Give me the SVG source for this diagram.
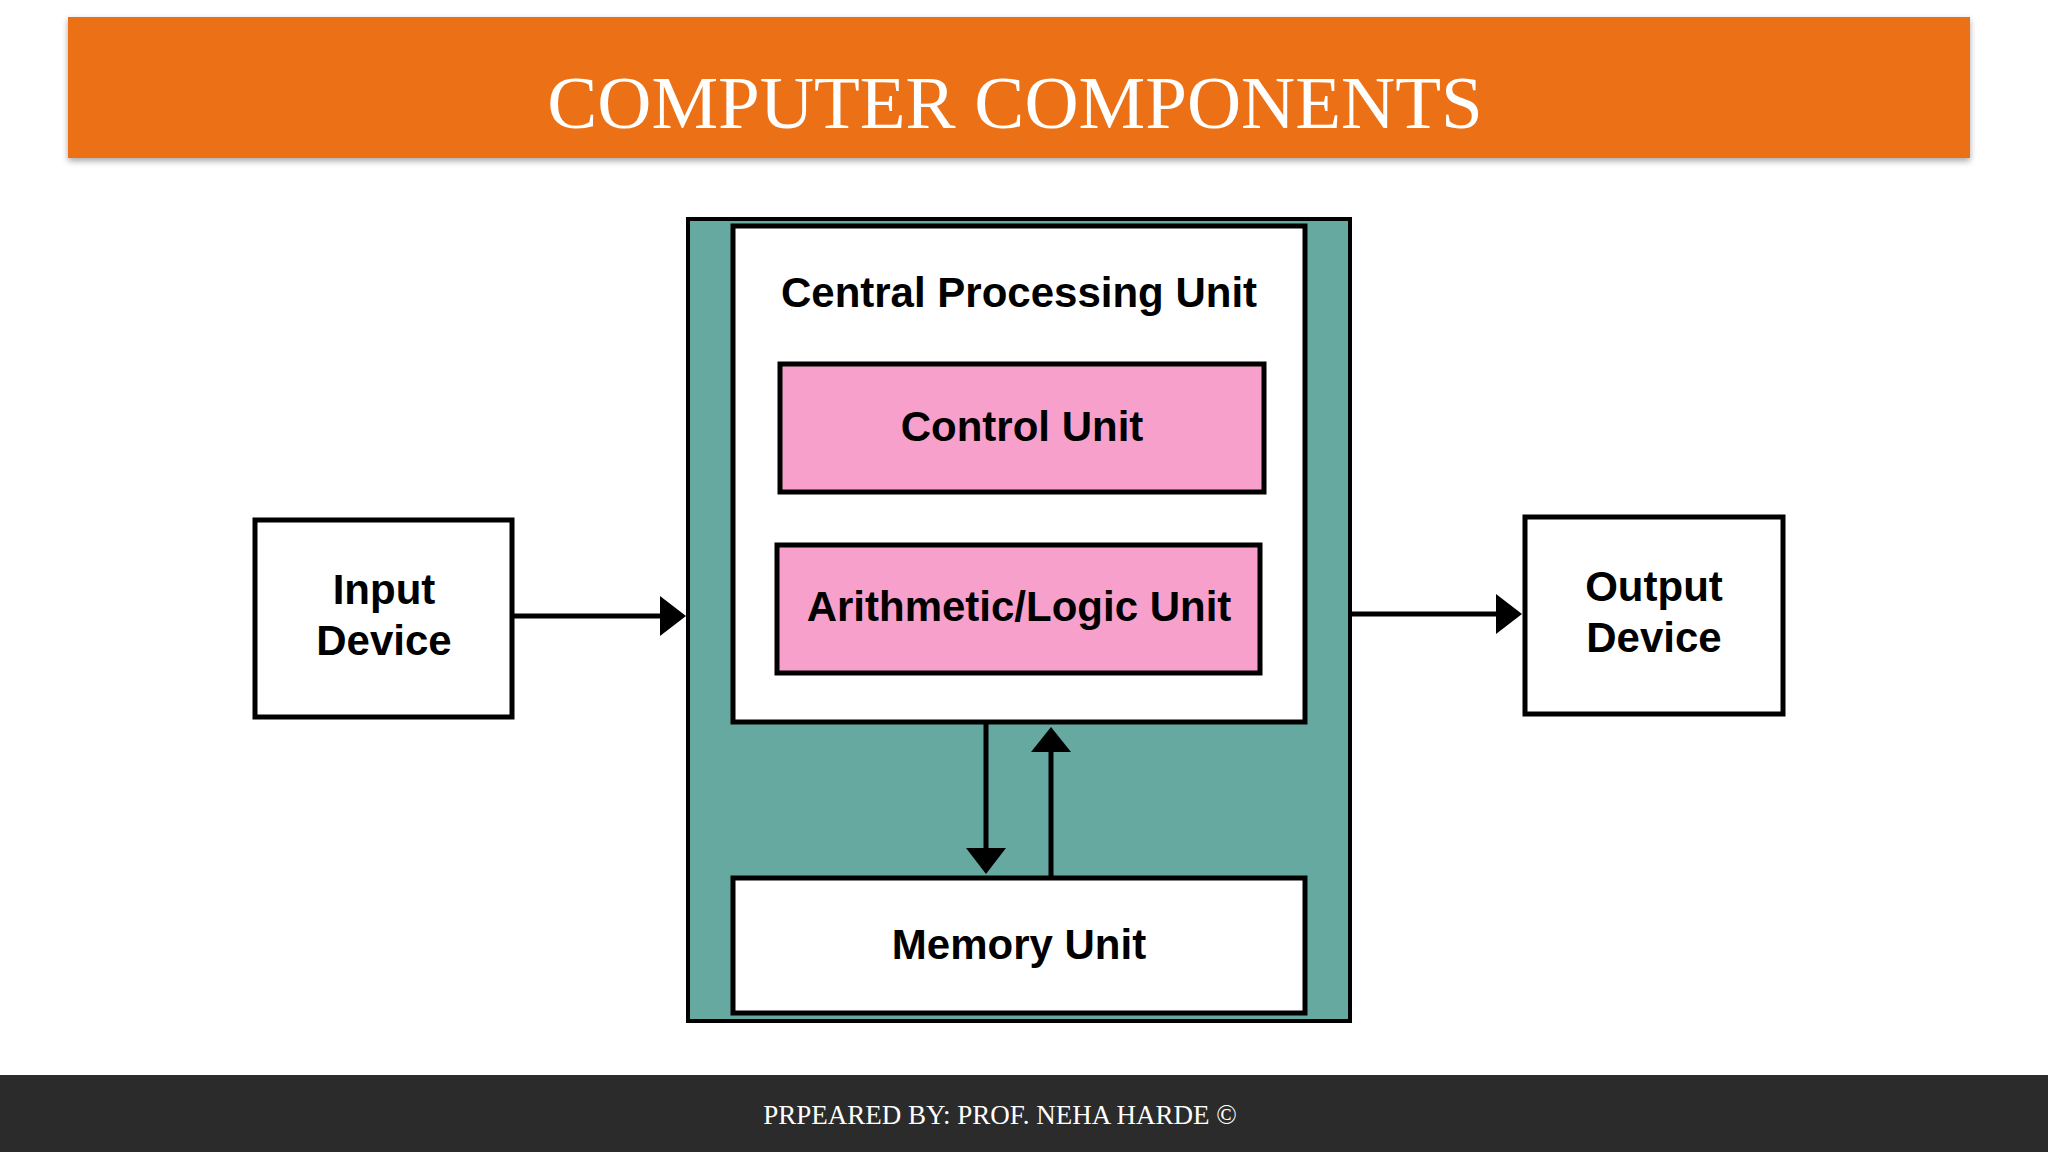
<svg xmlns="http://www.w3.org/2000/svg" width="2048" height="1152" viewBox="0 0 2048 1152">
<defs>
<filter id="sh"><feDropShadow dx="0" dy="3" stdDeviation="3" flood-opacity="0.35"/></filter>
</defs>
<style>
.box{fill:#fff;stroke:#000;stroke-width:5}
.pink{fill:#f6a0cb;stroke:#000;stroke-width:5}
.t{font-family:"Liberation Sans",Arial,sans-serif;font-weight:bold;font-size:42px;text-anchor:middle;fill:#000}
.c{stroke:#000;stroke-width:5;fill:none}
</style>
<rect width="2048" height="1152" fill="#fff"/>
<g id="header"><rect x="68" y="17" width="1902" height="141" fill="#ec7118" filter="url(#sh)"/>
<text x="1015" y="128" font-family="Liberation Serif,serif" font-size="75" fill="#fff" text-anchor="middle">COMPUTER COMPONENTS</text></g>
<g id="computer"><rect x="688" y="219" width="662" height="802" fill="#66a9a0" stroke="#000" stroke-width="4"/></g>
<g id="cpu"><rect class="box" x="733" y="226" width="572" height="496"/>
<text class="t" x="1019" y="307">Central Processing Unit</text></g>
<g id="cu"><rect class="pink" x="780" y="364" width="484" height="128"/><text class="t" x="1022" y="441">Control Unit</text></g>
<g id="alu"><rect class="pink" x="777" y="545" width="483" height="128"/><text class="t" x="1019" y="621">Arithmetic/Logic Unit</text></g>
<g id="memory"><rect class="box" x="733" y="878" width="572" height="135"/><text class="t" x="1019" y="959">Memory Unit</text></g>
<g id="input"><rect class="box" x="255" y="520" width="257" height="197"/><text class="t" x="384" y="604">Input</text><text class="t" x="384" y="655">Device</text></g>
<g id="output"><rect class="box" x="1525" y="517" width="258" height="197"/><text class="t" x="1654" y="601">Output</text><text class="t" x="1654" y="652">Device</text></g>
<g id="connectors">
<path class="c" d="M512,616 H672"/><path d="M660,596 L686,616 L660,636 z"/>
<path class="c" d="M1350,614 H1508"/><path d="M1496,594 L1522,614 L1496,634 z"/>
<path class="c" d="M986,722 V860"/><path d="M966,848 L986,874 L1006,848 z"/>
<path class="c" d="M1051,878 V740"/><path d="M1031,752 L1051,727 L1071,752 z"/>
</g>
<g id="footer"><rect x="0" y="1075" width="2048" height="77" fill="#2b2b2b"/>
<text x="1000" y="1124" font-family="Liberation Serif,serif" font-size="27" fill="#fff" text-anchor="middle">PRPEARED BY: PROF. NEHA HARDE ©</text></g>
</svg>
